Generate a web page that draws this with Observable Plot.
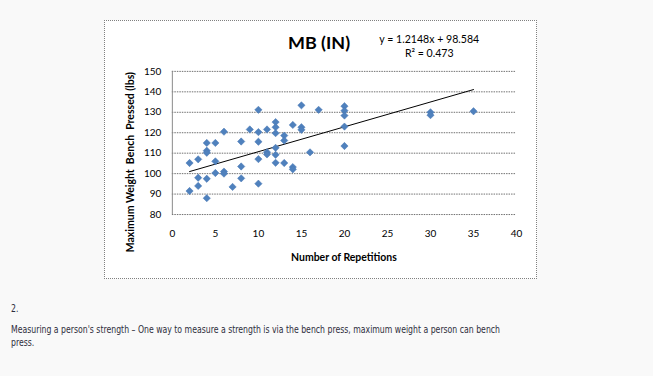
<!DOCTYPE html>
<html><head><meta charset="utf-8">
<script src="https://cdn.jsdelivr.net/npm/d3@7"></script>
<script src="https://cdn.jsdelivr.net/npm/@observablehq/plot@0.6"></script>
<style>
html,body{margin:0;padding:0;background:#f9f9f9;width:653px;height:376px;overflow:hidden;}
#frame{position:absolute;left:104px;top:20px;width:433px;height:259px;box-sizing:border-box;border:1px dotted #808080;background:#fff;}
#chart{position:absolute;left:-1px;top:-1px;}
.p{position:absolute;left:11px;font-family:"DejaVu Sans",sans-serif;font-size:10.5px;line-height:13px;color:#2e2e3c;white-space:nowrap;transform-origin:0 50%;}
</style></head><body>
<div id="frame"><div id="chart"></div></div>
<div class="p" id="num" style="top:302px">2.</div>
<div class="p" id="l1" style="top:323px"><span id="s1">Measuring a person's strength – One way to measure a strength is via the bench press, maximum weight a person can bench</span></div>
<div class="p" id="l2" style="top:336px"><span id="s2">press.</span></div>
<script>
// Data
const reps = [2,2,3,3,3,4,4,4,4,4,5,5,5,6,6,6,7,8,8,8,9,10,10,10,10,10,11,11,11,12,12,12,12,12,12,13,13,13,14,14,14,15,15,15,16,17,20,20,20,20,20,30,30,35];
const weights = [105.2,91.5,107,98,94,115,111.2,110.2,97.5,88,115,106,100.3,120.5,101,100,93.5,115.7,103.5,97.7,121.6,131.2,120.3,115.6,107.1,95.1,121.6,110.5,109.4,125.2,122.7,119.8,112.6,109.2,105.3,118.6,116.2,105.2,123.8,103.2,102.1,133.4,122.7,121.4,110.4,131.2,133,130.8,128.4,123,113.5,130,128.6,130.5];
const xTicks = [0,5,10,15,20,25,30,35,40];
const yTicks = [80,90,100,110,120,130,140,150];
const trendSlope = 1.2148;
const trendIntercept = 98.584;
const rSquared = 0.473;
const chartTitle = "MB (IN)";
const xLabel = "Number of Repetitions";
const yLabel = "Maximum Weight  Bench  Pressed (lbs)";

const data = reps.map((r, i) => ({reps: r, weight: weights[i]}));
const xExtent = d3.extent(reps);
const trend = xExtent.map(x => ({x, y: trendSlope * x + trendIntercept}));
const eqText = `y = ${trendSlope}x + ${trendIntercept}\nR² = ${rSquared}`;

const chart = Plot.plot({
  width: 433, height: 259,
  marginLeft: 68, marginRight: 20, marginTop: 51, marginBottom: 64.5,
  style: {background: "transparent", fontFamily: "Lato, sans-serif", fontSize: "10px", color: "#000"},
  x: {domain: [0, 40], ticks: xTicks, tickSize: 0, tickPadding: 15, label: null},
  y: {domain: [80, 150], ticks: yTicks, tickSize: 0, tickPadding: 11, label: null},
  marks: [
    Plot.ruleY(yTicks, {stroke: "#707070", strokeDasharray: "1.5,1", strokeWidth: 1}),
    Plot.ruleX([0], {stroke: "#8a8a8a", strokeWidth: 1}),
    Plot.line(trend, {x: "x", y: "y", stroke: "#000", strokeWidth: 1}),
    Plot.dot(data, {x: "reps", y: "weight", symbol: "diamond2", r: 3.3, fill: "#4F81BD", stroke: "#4878B4", strokeWidth: 0.5}),
    Plot.text([chartTitle], {frameAnchor: "top", textAnchor: "middle", lineAnchor: "middle", dx: -25.5, dy: -27.7, fontSize: 18, fontWeight: "bold", fontFamily: "Lato, sans-serif", fill: "#000"}),
    Plot.text([eqText], {frameAnchor: "top", textAnchor: "middle", lineAnchor: "middle", dx: 85, dy: -25.7, fontSize: 10.6, lineHeight: 1.32, fontFamily: "Lato, sans-serif", fill: "#000"}),
    Plot.text([xLabel], {frameAnchor: "bottom", textAnchor: "middle", lineAnchor: "middle", dx: -0.5, dy: 42.8, fontSize: 10.5, fontWeight: "bold", fontFamily: "Lato, sans-serif", fill: "#000"}),
    Plot.text([yLabel], {frameAnchor: "left", textAnchor: "middle", lineAnchor: "middle", dx: -42, dy: 19.25, rotate: -90, fontSize: 10.5, fontWeight: "bold", fontFamily: "Lato, sans-serif", fill: "#000"})
  ]
});
document.getElementById("chart").append(chart);

// fit paragraph line to reference width
const s1 = document.getElementById("s1");
const w = s1.getBoundingClientRect().width;
const k = 489 / w;
document.getElementById("l1").style.transform = `scaleX(${k})`;
document.getElementById("l2").style.transform = `scaleX(${k})`;
document.getElementById("num").style.transform = `scaleX(${k})`;
</script>
</body></html>
